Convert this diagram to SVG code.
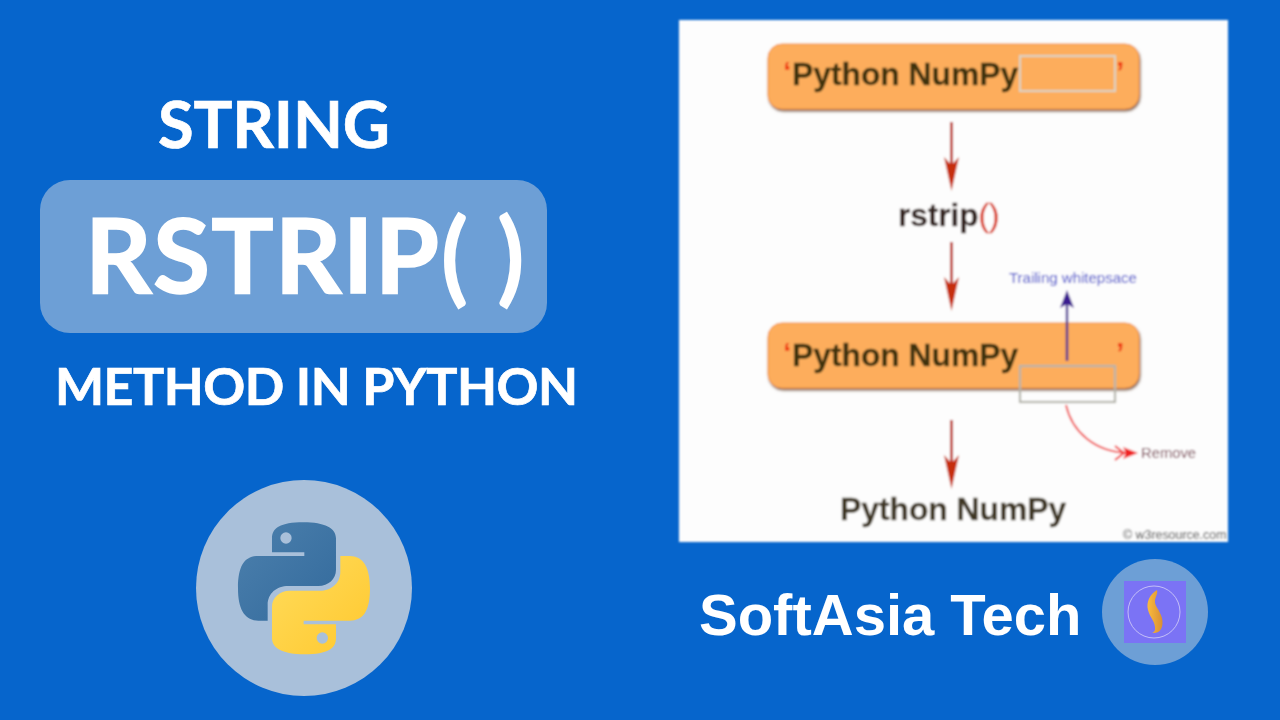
<svg xmlns="http://www.w3.org/2000/svg" width="1280" height="720" viewBox="0 0 1280 720">
<style>
.title{font-family:"Lato","Liberation Sans",sans-serif;font-weight:700;fill:#fff;stroke:#fff;stroke-width:0.700}
.shot{font-family:"Liberation Sans",Arial,sans-serif}
.dark{font-weight:700;fill:#3e300c;stroke:#3e300c;stroke-width:0.300}
.box{fill:#fdad5c;stroke:#f0903c;stroke-width:1}
.hole{fill:none;stroke:#d8d4c4;stroke-width:2}
.red{stroke:#c02c14;stroke-width:3;fill:none}
.head{fill:#c62f10}
.quote{font-size:30px;font-weight:700;fill:#ee3a10}
</style>
<defs>
<filter id="soft" x="-5%" y="-5%" width="110%" height="110%"><feGaussianBlur stdDeviation="0.800"/></filter>
<filter id="shade" x="-5%" y="-10%" width="110%" height="130%"><feDropShadow dx="1" dy="2" stdDeviation="1.200" flood-color="#6a4a30" flood-opacity="0.850"/></filter>
<linearGradient id="blue" x1="0" y1="0" x2="1" y2="1"><stop offset="0" stop-color="#4c80ad"/><stop offset="1" stop-color="#336a9c"/></linearGradient>
<linearGradient id="yellow" x1="0" y1="0" x2="1" y2="1"><stop offset="0" stop-color="#ffc82e"/><stop offset="1" stop-color="#ffdc5c"/></linearGradient>
<linearGradient id="swoosh" x1="0" y1="0" x2="1" y2="0"><stop offset="0" stop-color="#fbbb3c"/><stop offset="1" stop-color="#d88f34"/></linearGradient>
<path id="snake" d="M340,142C270,142 246,160 246,190L246,232L343,232L343,243L205,243C165,243 144,270 144,340C144,405 165,437 205,437L233,437L233,390C233,355 260,333 295,333L385,333C415,333 438,312 438,285L438,190C438,160 405,142 340,142Z"/>
</defs>
<rect width="1280" height="720" fill="#0665cc"/>

<g id="title">
<text class="title" x="158" y="148" font-size="65" textLength="232" lengthAdjust="spacing">STRING</text>
<rect x="40" y="180" width="507" height="153" rx="30" fill="#6d9fd6"/>
<text class="title" x="85" y="293" font-size="104" textLength="440" lengthAdjust="spacing" style="stroke-width:1.500">RSTRIP<tspan style="stroke-width:0">( )</tspan></text>
<text class="title" x="55" y="405" font-size="52" textLength="523" lengthAdjust="spacing">METHOD IN PYTHON</text>
</g>

<g id="python-logo">
<circle cx="304" cy="588" r="108" fill="#a9c0da"/>
<g transform="translate(190 475) scale(0.3333)">
<use href="#snake" fill="url(#blue)"/>
<use href="#snake" fill="url(#yellow)" transform="rotate(180 342 340)"/>
<circle cx="288" cy="189" r="17" fill="#a9c0da"/>
<circle cx="397" cy="489" r="17" fill="#a9c0da"/>
</g>
</g>

<g id="brand">
<text x="699" y="635" font-family="'Liberation Sans',Arial,sans-serif" font-weight="700" font-size="58" fill="#fff">SoftAsia Tech</text>
<circle cx="1155" cy="612" r="53" fill="#6d9fd6"/>
<rect x="1124" y="581" width="62" height="62" fill="#7b73f5"/>
<circle cx="1154" cy="612" r="26" fill="none" stroke="#d6d2f8" stroke-width="0.800"/>
<path d="M1157,590C1150,594 1146,602 1148,610C1150,618 1156,622 1155,630C1154,632 1153,633 1152,633C1160,634 1164,628 1162,618C1160,610 1154,606 1155,600C1156,596 1158,593 1157,590Z" fill="url(#swoosh)"/>
</g>

<g id="screenshot" filter="url(#soft)">
<rect x="679" y="20" width="549" height="522" fill="#fdfdfd"/>
<g id="node-source" class="shot">
<rect class="box" x="768" y="44" width="371" height="65" rx="14" filter="url(#shade)"/>
<rect class="hole" x="1020" y="56" width="95" height="35"/>
<text class="dark" x="792" y="85" font-size="31.800">Python NumPy</text>
<text class="quote" x="783" y="82">‘</text>
<text class="quote" x="1116" y="82">’</text>
</g>
<g id="node-method" class="shot">
<text x="898" y="226" font-size="31.500" font-weight="700" fill="#33201e" stroke="#33201e" stroke-width="0.300">rstrip<tspan fill="#d8341c" stroke="#d8341c" font-weight="400">()</tspan></text>
</g>
<g id="node-result" class="shot">
<rect class="box" x="768" y="323" width="371" height="65" rx="14" filter="url(#shade)"/>
<text class="dark" x="792" y="366" font-size="31.800">Python NumPy</text>
<text class="quote" x="783" y="363">‘</text>
<text class="quote" x="1116" y="363">’</text>
<rect x="1020" y="366" width="95" height="36" fill="none" stroke="#b4b4aa" stroke-width="2.200"/>
</g>
<g id="node-output" class="shot">
<text x="840" y="520" font-size="31.800" font-weight="700" fill="#3e3420" stroke="#3e3420" stroke-width="0.300">Python NumPy</text>
</g>
<g id="label-trailing" class="shot"><text x="1009" y="283" font-size="15" fill="#3a40c8">Trailing whitepsace</text></g>
<g id="label-remove" class="shot"><text x="1141" y="458" font-size="14.800" fill="#7a4050">Remove</text></g>
<g id="label-credit" class="shot"><text x="1123" y="539" font-size="12.400" fill="#444">© w3resource.com</text></g>
<g id="connectors">
<path class="red" d="M951.500,122V180"/><path class="head" d="M944,157L951.500,191L959,157L951.500,165Z"/>
<path class="red" d="M951.500,242V300"/><path class="head" d="M944,277L951.500,311L959,277L951.500,285Z"/>
<path class="red" d="M951.500,420V478"/><path class="head" d="M944,455L951.500,489L959,455L951.500,463Z"/>
<path d="M1067,361V300" stroke="#3a1a90" stroke-width="2.400" fill="none"/><path d="M1067,290L1060,308L1067,304L1074,308Z" fill="#3a1a90"/>
<path d="M1066,405C1072,432 1095,452 1128,453" stroke="#f04040" stroke-width="1.800" fill="none"/>
<path d="M1115,446L1124,453L1115,460M1124,453L1136,453" stroke="#f02020" stroke-width="1.800" fill="none"/><path d="M1123,447L1138,453L1123,459L1126,453Z" fill="#f02020"/>
</g>
</g>
</svg>
